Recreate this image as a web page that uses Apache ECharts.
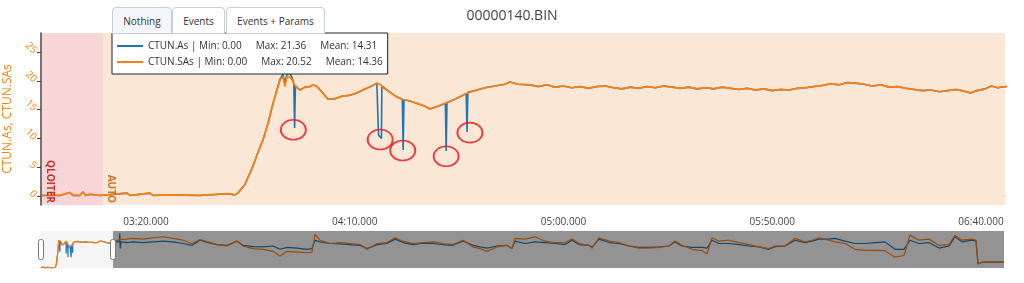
<!DOCTYPE html>
<html><head><meta charset="utf-8">
<script src="https://cdn.jsdelivr.net/npm/echarts@6/dist/echarts.min.js"></script>
<style>
html,body{margin:0;padding:0;background:#fff;}
#wrap{position:relative;width:1024px;height:283px;}
#chart{width:1024px;height:283px;}
.btn{position:absolute;top:7px;height:27px;box-sizing:border-box;border:1px solid #c6ced8;border-radius:4px 4px 0 0;font:10px "Open Sans",sans-serif;color:#333;display:flex;align-items:center;justify-content:center;background:#fff;}
</style></head>
<body>
<div id="wrap">
<div id="chart"></div>
<div class="btn" style="left:112px;width:60px;background:#f3f7fc">Nothing</div>
<div class="btn" style="left:172px;width:53px;">Events</div>
<div class="btn" style="left:226px;width:99px;">Events + Params</div>
</div>
<script>
// ---- data ----
const times = [
175.1,179.4,181.8,182.5,184.2,184.9,185.6,186.6,189.0,195.5,196.2,201.0,201.7,205.8,212.9,219.6,221.3,222.0,
223.7,225.4,226.8,228.0,229.2,230.4,231.4,232.1,232.8,233.3,233.8,234.5,235.0,235.4,235.6,235.8,236.2,236.9,
238.1,239.3,240.0,241.0,242.2,243.6,245.3,246.9,248.9,250.5,252.5,254.1,255.3,255.7,256.4,256.5,256.8,258.5,
260.1,261.4,261.6,261.8,263.2,265.2,266.8,268.0,270.0,271.7,271.9,272.1,274.0,275.7,276.7,276.9,277.1,278.8,
281.2,283.6,286.0,287.2,289.1,292.0,
294,296,298,300,302,304,306,308,310,312,314,316,318,320,322,324,326,328,330,332,334,336,338,340,342,344,
346,348,350,352,354,356,358,360,362,364,366,368,370,372,374,376,378,380,382,384,386,388,390,392,394,396,
397.5,399,401,402.5,404,405.75,
410,426,427.5,429,431,450.6,469.8,501.9,533.9,565.9,597.9,630.0,658.8,684.5,710.1,738.9,770.9,803.0,822.2,
854.2,886.3,918.3,940.7,963.2,995.2,1027.2,1043.2,1052.9,1068.9,1100.9,1132.9,1164.9,1197.0,1219.4,1251.5,
1283.5,1309.1,1334.8,1366.8,1398.8,1430.9,1462.9,1494.9,1527.0,1559.0,1581.4,1603.9,1635.9,1667.9,1683.9,
1693.5,1725.6,1757.6,1789.6,1821.7,1853.7,1876.1,1898.5,1930.6,1940.2,1962.6,1994.7,2026.7,2058.7,2090.8,
2122.8,2154.8,2186.9,2206.1,2228.5,2260.5,2292.6,2308.6,2324.6,2347.0,2379.1,2411.1,2443.1,2475.2,2507.2,
2526.4,2558.5,2590.5,2622.5,2645.0,2667.4,2699.4,2718.6,2750.7,2782.7,2814.7,2846.8,2878.8,2910.8,2939.7,
2958.9,2987.7,3019.7,3051.8,3083.8,3103.0,3125.4,3157.5,3170.3,3176.7,3189.5,3260.0
];
const sasVals = [
0.1,0.1,0.6,0.1,0.1,0.7,0.1,0.3,0.1,0.5,0.1,0.5,0.1,0.2,0.1,0.4,0.2,0.5,
2.0,4.8,7.5,9.7,12.5,16.0,18.5,20.1,20.7,19.0,20.8,20.6,20.2,19.5,19.3,19.1,18.8,18.4,
18.9,19.0,19.3,19.0,18.0,16.8,16.9,17.3,17.5,17.9,18.6,19.1,19.6,19.5,19.2,19.1,18.8,18.0,
17.2,16.8,16.7,16.7,16.5,16.0,15.6,15.1,15.6,16.1,16.2,16.2,16.8,17.4,17.8,18.0,18.0,18.3,
18.8,19.1,19.4,19.8,19.4,19.3,
19.0,19.3,18.9,19.1,18.8,19.0,18.7,19.0,19.1,18.8,18.6,18.9,18.7,19.0,18.8,19.1,18.9,18.7,18.9,18.6,18.8,18.6,18.9,18.7,18.5,18.7,
18.4,18.6,18.3,18.5,18.4,18.7,18.8,19.0,19.2,19.5,19.3,19.7,19.6,19.4,19.1,19.3,18.9,19.0,18.7,18.5,18.3,18.4,18.1,18.3,18.5,18.2,
17.9,18.3,18.6,19.1,18.8,19.0,
19.8,20.6,20.8,20.8,20.8,21.0,21.5,21.0,22.0,22.7,21.5,20.2,17.8,20.7,19.0,17.0,16.0,19.7,16.0,
14.1,13.6,12.1,8.6,12.1,11.6,11.1,11.6,24.4,20.2,17.8,18.5,17.8,17.0,13.6,17.8,
18.5,22.0,19.5,17.8,18.5,19.0,17.8,17.0,20.2,15.3,14.1,12.1,15.3,16.5,14.1,
21.5,21.0,22.7,19.5,18.5,18.5,21.0,17.8,16.5,14.5,22.0,19.5,18.5,16.0,14.5,
14.5,15.0,16.0,19.7,16.5,13.6,12.6,10.3,22.0,19.5,20.2,18.5,17.0,15.3,14.1,
16.0,16.0,21.5,19.0,20.2,22.0,20.2,19.0,17.8,13.6,12.8,12.8,12.6,7.9,9.1,
23.9,20.2,21.0,16.5,17.0,23.9,20.2,21.0,20.2,3.0,4.2,4.2
];
const asVals = [
0.1,0.1,0.6,0.1,0.1,0.7,0.1,0.3,0.1,0.5,0.1,0.5,0.1,0.2,0.1,0.4,0.2,0.5,
2.0,4.8,7.5,9.7,12.5,16.0,18.5,20.3,21.1,19.6,21.36,21.2,20.6,19.6,11.8,19.1,18.8,18.4,
18.9,19.0,19.3,19.0,18.0,16.8,16.9,17.3,17.5,17.9,18.6,19.1,19.6,10.6,10.0,19.1,18.8,18.0,
17.2,16.8,8.0,16.7,16.5,16.0,15.6,15.1,15.6,16.1,7.8,16.2,16.8,17.4,17.8,11.1,18.0,18.3,
18.8,19.1,19.4,19.8,19.4,19.3,
19.0,19.3,18.9,19.1,18.8,19.0,18.7,19.0,19.1,18.8,18.6,18.9,18.7,19.0,18.8,19.1,18.9,18.7,18.9,18.6,18.8,18.6,18.9,18.7,18.5,18.7,
18.4,18.6,18.3,18.5,18.4,18.7,18.8,19.0,19.2,19.5,19.3,19.7,19.6,19.4,19.1,19.3,18.9,19.0,18.7,18.5,18.3,18.4,18.1,18.3,18.5,18.2,
17.9,18.3,18.6,19.1,18.8,19.0,
18.8,19.0,25.2,14.1,19.0,18.5,19.0,18.5,19.0,19.5,19.0,17.8,16.5,20.2,18.5,17.0,16.5,19.5,16.5,
15.5,15.3,16.0,13.6,15.0,14.5,13.6,14.1,20.2,19.0,17.8,17.5,17.0,16.5,14.1,17.0,
17.8,21.0,18.5,17.0,18.0,17.8,17.0,16.5,19.5,16.5,15.3,14.5,16.0,16.5,14.1,
19.5,17.8,19.0,18.5,17.8,17.0,20.2,17.0,16.5,15.0,21.0,18.5,17.8,16.0,15.0,
15.0,15.3,16.0,19.0,16.0,15.0,15.0,14.5,20.2,17.8,17.8,17.0,16.0,15.3,13.6,
15.5,16.0,20.2,18.5,19.5,21.0,21.0,21.5,19.5,17.8,17.8,18.5,19.0,13.6,13.6,
20.2,17.8,18.5,14.5,16.0,22.7,19.0,20.2,19.5,3.0,4.2,4.2
];
const seriesNames = ['CTUN.As', 'CTUN.SAs'];
const statMin = ['0.00', '0.00'];
const statMax = ['21.36', '20.52'];
const statMean = ['14.31', '14.36'];
const xTickValues = [200, 250, 300, 350, 400];
const yTickValues = [0, 5, 10, 15, 20, 25];
const modeNames = ['QLOITER', 'AUTO'];
const modeColors = ['#c00000', '#c25a00'];
const modeStarts = [175.1, 189.7];
const viewStart = 175.1, viewEnd = 405.75;
const circleTimes = [235.3, 256.1, 261.5, 271.9, 277.6];
const circleValues = [11.5, 9.8, 7.9, 6.9, 11.0];

// ---- build ----
const pairs = vals => times.map((t, i) => [t, vals[i]]);
const asData = pairs(asVals), sasData = pairs(sasVals);
const tStart = times[0], tEnd = times[times.length - 1];
const pad = n => (n < 10 ? '0' : '') + n;
const fmtTime = v => { const m = Math.floor(v / 60); const s = Math.round(v - m * 60); return pad(m) + ':' + pad(s) + '.000'; };
const FONT = 'Open Sans';
const BLUE = '#1f77b4', ORANGE = '#ff7f0e';

const chart = echarts.init(document.getElementById('chart'));
chart.setOption({
  animation: false,
  title: { text: '00000140.BIN', left: 'center', top: 4, textStyle: { fontFamily: FONT, fontSize: 14, fontWeight: 'normal', color: '#444' } },
  legend: {
    data: seriesNames, orient: 'vertical', left: 112, top: 33, padding: [6, 5, 5, 5], itemGap: 2,
    itemWidth: 26, itemHeight: 2, icon: 'rect', backgroundColor: '#fff', borderColor: '#222', borderWidth: 1, borderRadius: 0,
    textStyle: { fontFamily: FONT, fontSize: 10, color: '#333', lineHeight: 14,
      rich: { t: { fontFamily: FONT, fontSize: 10, color: '#333', padding: [0, 14, 0, 0] }, e: { fontFamily: FONT, fontSize: 10, color: '#333' } } },
    formatter: name => { const i = seriesNames.indexOf(name); return '{t|' + name + ' | Min: ' + statMin[i] + '}{t|Max: ' + statMax[i] + '}{e|Mean: ' + statMean[i] + '}'; }
  },
  grid: [
    { left: 42, right: 19, top: 33, bottom: 78, containLabel: false, outerBoundsMode: 'none' },
    { left: 41, right: 20, top: 231, height: 37, show: true, backgroundColor: '#f6f6f6', borderWidth: 0, containLabel: false, outerBoundsMode: 'none' }
  ],
  xAxis: [
    { type: 'value', gridIndex: 0, min: viewStart, max: viewEnd,
      axisLine: { onZero: true, lineStyle: { color: '#555', width: 1 } },
      axisTick: { show: false, customValues: xTickValues },
      axisLabel: { customValues: xTickValues, formatter: fmtTime, color: '#444', fontFamily: FONT, fontSize: 10, margin: 12 },
      splitLine: { show: true, lineStyle: { color: 'rgba(120,90,60,0.12)', width: 1 } } },
    { type: 'value', gridIndex: 1, min: tStart, max: tEnd, show: false }
  ],
  yAxis: [
    { type: 'value', gridIndex: 0, min: -1.56, max: 28.3, offset: 1,
      name: 'CTUN.As, CTUN.SAs', nameLocation: 'middle', nameGap: 24,
      nameTextStyle: { color: ORANGE, fontFamily: FONT, fontSize: 12 },
      axisLine: { show: true, lineStyle: { color: '#444', width: 1.5 } },
      axisTick: { show: true, length: 4, customValues: yTickValues, lineStyle: { color: '#444' } },
      axisLabel: { customValues: yTickValues, rotate: -45, color: ORANGE, fontFamily: FONT, fontSize: 10, margin: 6 },
      splitLine: { show: true, lineStyle: { color: 'rgba(120,90,60,0.12)', width: 1 } } },
    { type: 'value', gridIndex: 1, min: 0, max: 26.9, show: false }
  ],
  series: [
    { name: 'modes-bg', type: 'line', xAxisIndex: 0, yAxisIndex: 0, data: [], z: -1, silent: true,
      markArea: { silent: true, data: [
        [{ xAxis: modeStarts[0], itemStyle: { color: '#f8d5d6' } }, { xAxis: modeStarts[1] }],
        [{ xAxis: modeStarts[1], itemStyle: { color: '#fae7d5' } }, { xAxis: viewEnd }]
      ] } },
    { name: seriesNames[0], type: 'line', xAxisIndex: 0, yAxisIndex: 0, data: asData, showSymbol: false,
      lineStyle: { color: BLUE, width: 1.6 }, itemStyle: { color: BLUE }, z: 3 },
    { name: seriesNames[1], type: 'line', xAxisIndex: 0, yAxisIndex: 0, data: sasData, showSymbol: false,
      lineStyle: { color: ORANGE, width: 1.7 }, itemStyle: { color: ORANGE }, z: 4 },
    { name: 'modes', type: 'scatter', xAxisIndex: 0, yAxisIndex: 0, symbolSize: 0, z: 6, silent: true,
      data: modeNames.map((m, i) => ({ value: [modeStarts[i], -1.2], name: m, label: { color: modeColors[i] } })),
      label: { show: true, position: [3, 0], rotate: -90, align: 'right', verticalAlign: 'bottom',
        fontFamily: FONT, fontSize: 10, fontWeight: 'bold', formatter: p => p.name } },
    { name: 'marks', type: 'scatter', xAxisIndex: 0, yAxisIndex: 0, z: 8, silent: true,
      data: circleTimes.map((t, i) => [t, circleValues[i]]), symbol: 'circle', symbolSize: [25, 20],
      itemStyle: { color: 'rgba(0,0,0,0)', borderColor: '#e8141a', borderWidth: 1.8 } },
    { name: 'thumbAs', type: 'line', xAxisIndex: 1, yAxisIndex: 1, data: asData, showSymbol: false,
      lineStyle: { color: BLUE, width: 1.2 }, z: 3, silent: true },
    { name: 'thumbSAs', type: 'line', xAxisIndex: 1, yAxisIndex: 1, data: sasData, showSymbol: false,
      lineStyle: { color: ORANGE, width: 1.2 }, z: 4, silent: true },
    { name: 'thumbMask', type: 'custom', xAxisIndex: 1, yAxisIndex: 1, z: 9, silent: true,
      data: [[viewEnd, tEnd]], encode: { x: [0, 1] },
      renderItem: (params, api) => {
        const x1 = api.coord([api.value(0), 0])[0];
        const x2 = api.coord([api.value(1), 0])[0];
        const cs = params.coordSys;
        return { type: 'rect', shape: { x: x1, y: cs.y, width: x2 - x1, height: cs.height }, style: { fill: 'rgba(0,0,0,0.4)' } };
      } },
    { name: 'thumbHandles', type: 'custom', xAxisIndex: 1, yAxisIndex: 1, z: 10, silent: true,
      data: [[viewStart], [viewEnd]], encode: { x: 0 },
      renderItem: (params, api) => {
        const x = api.coord([api.value(0), 0])[0];
        const cs = params.coordSys;
        return { type: 'rect', shape: { x: x - 2.5, y: cs.y + cs.height / 2 - 10, width: 5, height: 20, r: 2 },
          style: { fill: '#fff', stroke: '#777', lineWidth: 1 } };
      } }
  ]
});
</script>
</body></html>
